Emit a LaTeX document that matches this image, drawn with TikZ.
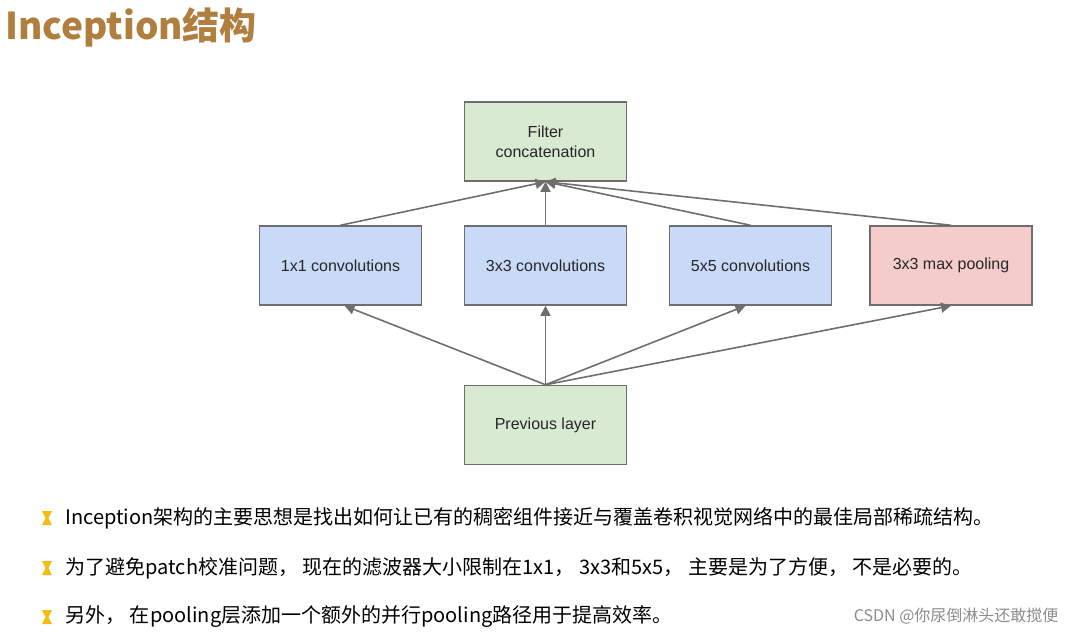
\documentclass[tikz,border=0pt]{standalone}
\usepackage{fontspec}
\setmainfont{Liberation Sans}
\newfontfamily\cjk{Noto Sans CJK SC}
\usetikzlibrary{positioning,arrows.meta}
\definecolor{titlebrown}{RGB}{176,126,62}
\definecolor{boxgreen}{RGB}{217,234,211}
\definecolor{boxblue}{RGB}{201,218,248}
\definecolor{boxred}{RGB}{244,204,204}
\definecolor{edgegray}{RGB}{110,110,110}
\definecolor{bulletyellow}{RGB}{240,190,20}
\tikzset{
  layer/.style={draw=edgegray,line width=1.5pt,minimum width=162pt,minimum height=79pt,align=center,font=\fontsize{16}{20}\selectfont,text=black!85},
  flow/.style={draw=edgegray,line width=1.6pt,-{Triangle[width=10pt,length=10pt]}},
  point/.style={font=\cjk\fontsize{20}{23}\selectfont,anchor=west},
}
\newcommand{\hourglass}[2]{%
  \fill[bulletyellow] (#1-5,#2-7) -- (#1+5,#2-7) -- (#1+1.5,#2) -- (#1+5,#2+7) -- (#1-5,#2+7) -- (#1-1.5,#2) -- cycle;}
\begin{document}
\begin{tikzpicture}[x=1pt,y=-1pt]
\useasboundingbox (0,0) rectangle (1077,635);

\node[anchor=west,text=titlebrown,font=\cjk\bfseries\fontsize{37}{40}\selectfont] (title) at (2,27) {Inception结构};

% layers
\node[layer,fill=boxgreen] (concat) at (545.5,141.5) {Filter\\concatenation};
\node[layer,fill=boxblue] (conv1) at (340.5,265.5) {1x1 convolutions};
\node[layer,fill=boxblue] (conv3) at (545.5,265.5) {3x3 convolutions};
\node[layer,fill=boxblue] (conv5) at (750.5,265.5) {5x5 convolutions};
\node[layer,fill=boxred] (pool) at (951,265.5) {3x3 max pooling};
\node[layer,fill=boxgreen] (prev) at (545.5,425) {Previous layer};

% connectors
\foreach \n in {conv1,conv3,conv5,pool}
  \draw[flow] (\n.north) -- (concat.south);
\draw[flow] (prev.north) -- ([xshift=4pt]conv1.south);
\draw[flow] (prev.north) -- (conv3.south);
\draw[flow] (prev.north) -- ([xshift=-5pt]conv5.south);
\draw[flow] (prev.north) -- (pool.south);

% notes
\hourglass{47}{518}
\hourglass{47}{568}
\hourglass{47}{617}
\node[point] (p1) at (62,518) {Inception架构的主要思想是找出如何让已有的稠密组件接近与覆盖卷积视觉网络中的最佳局部稀疏结构。};
\node[point] (p2) at (62,568) {为了避免patch校准问题，\ 现在的滤波器大小限制在1x1，\ 3x3和5x5，\ 主要是为了方便，\ 不是必要的。};
\node[point] (p3) at (62,617) {另外，\ 在pooling层添加一个额外的并行pooling路径用于提高效率。};
\node[anchor=east,text=black!45,font=\cjk\fontsize{16}{18}\selectfont] (mark) at (1062,616) {CSDN @你尿倒淋头还敢搅便};
\end{tikzpicture}
\end{document}
